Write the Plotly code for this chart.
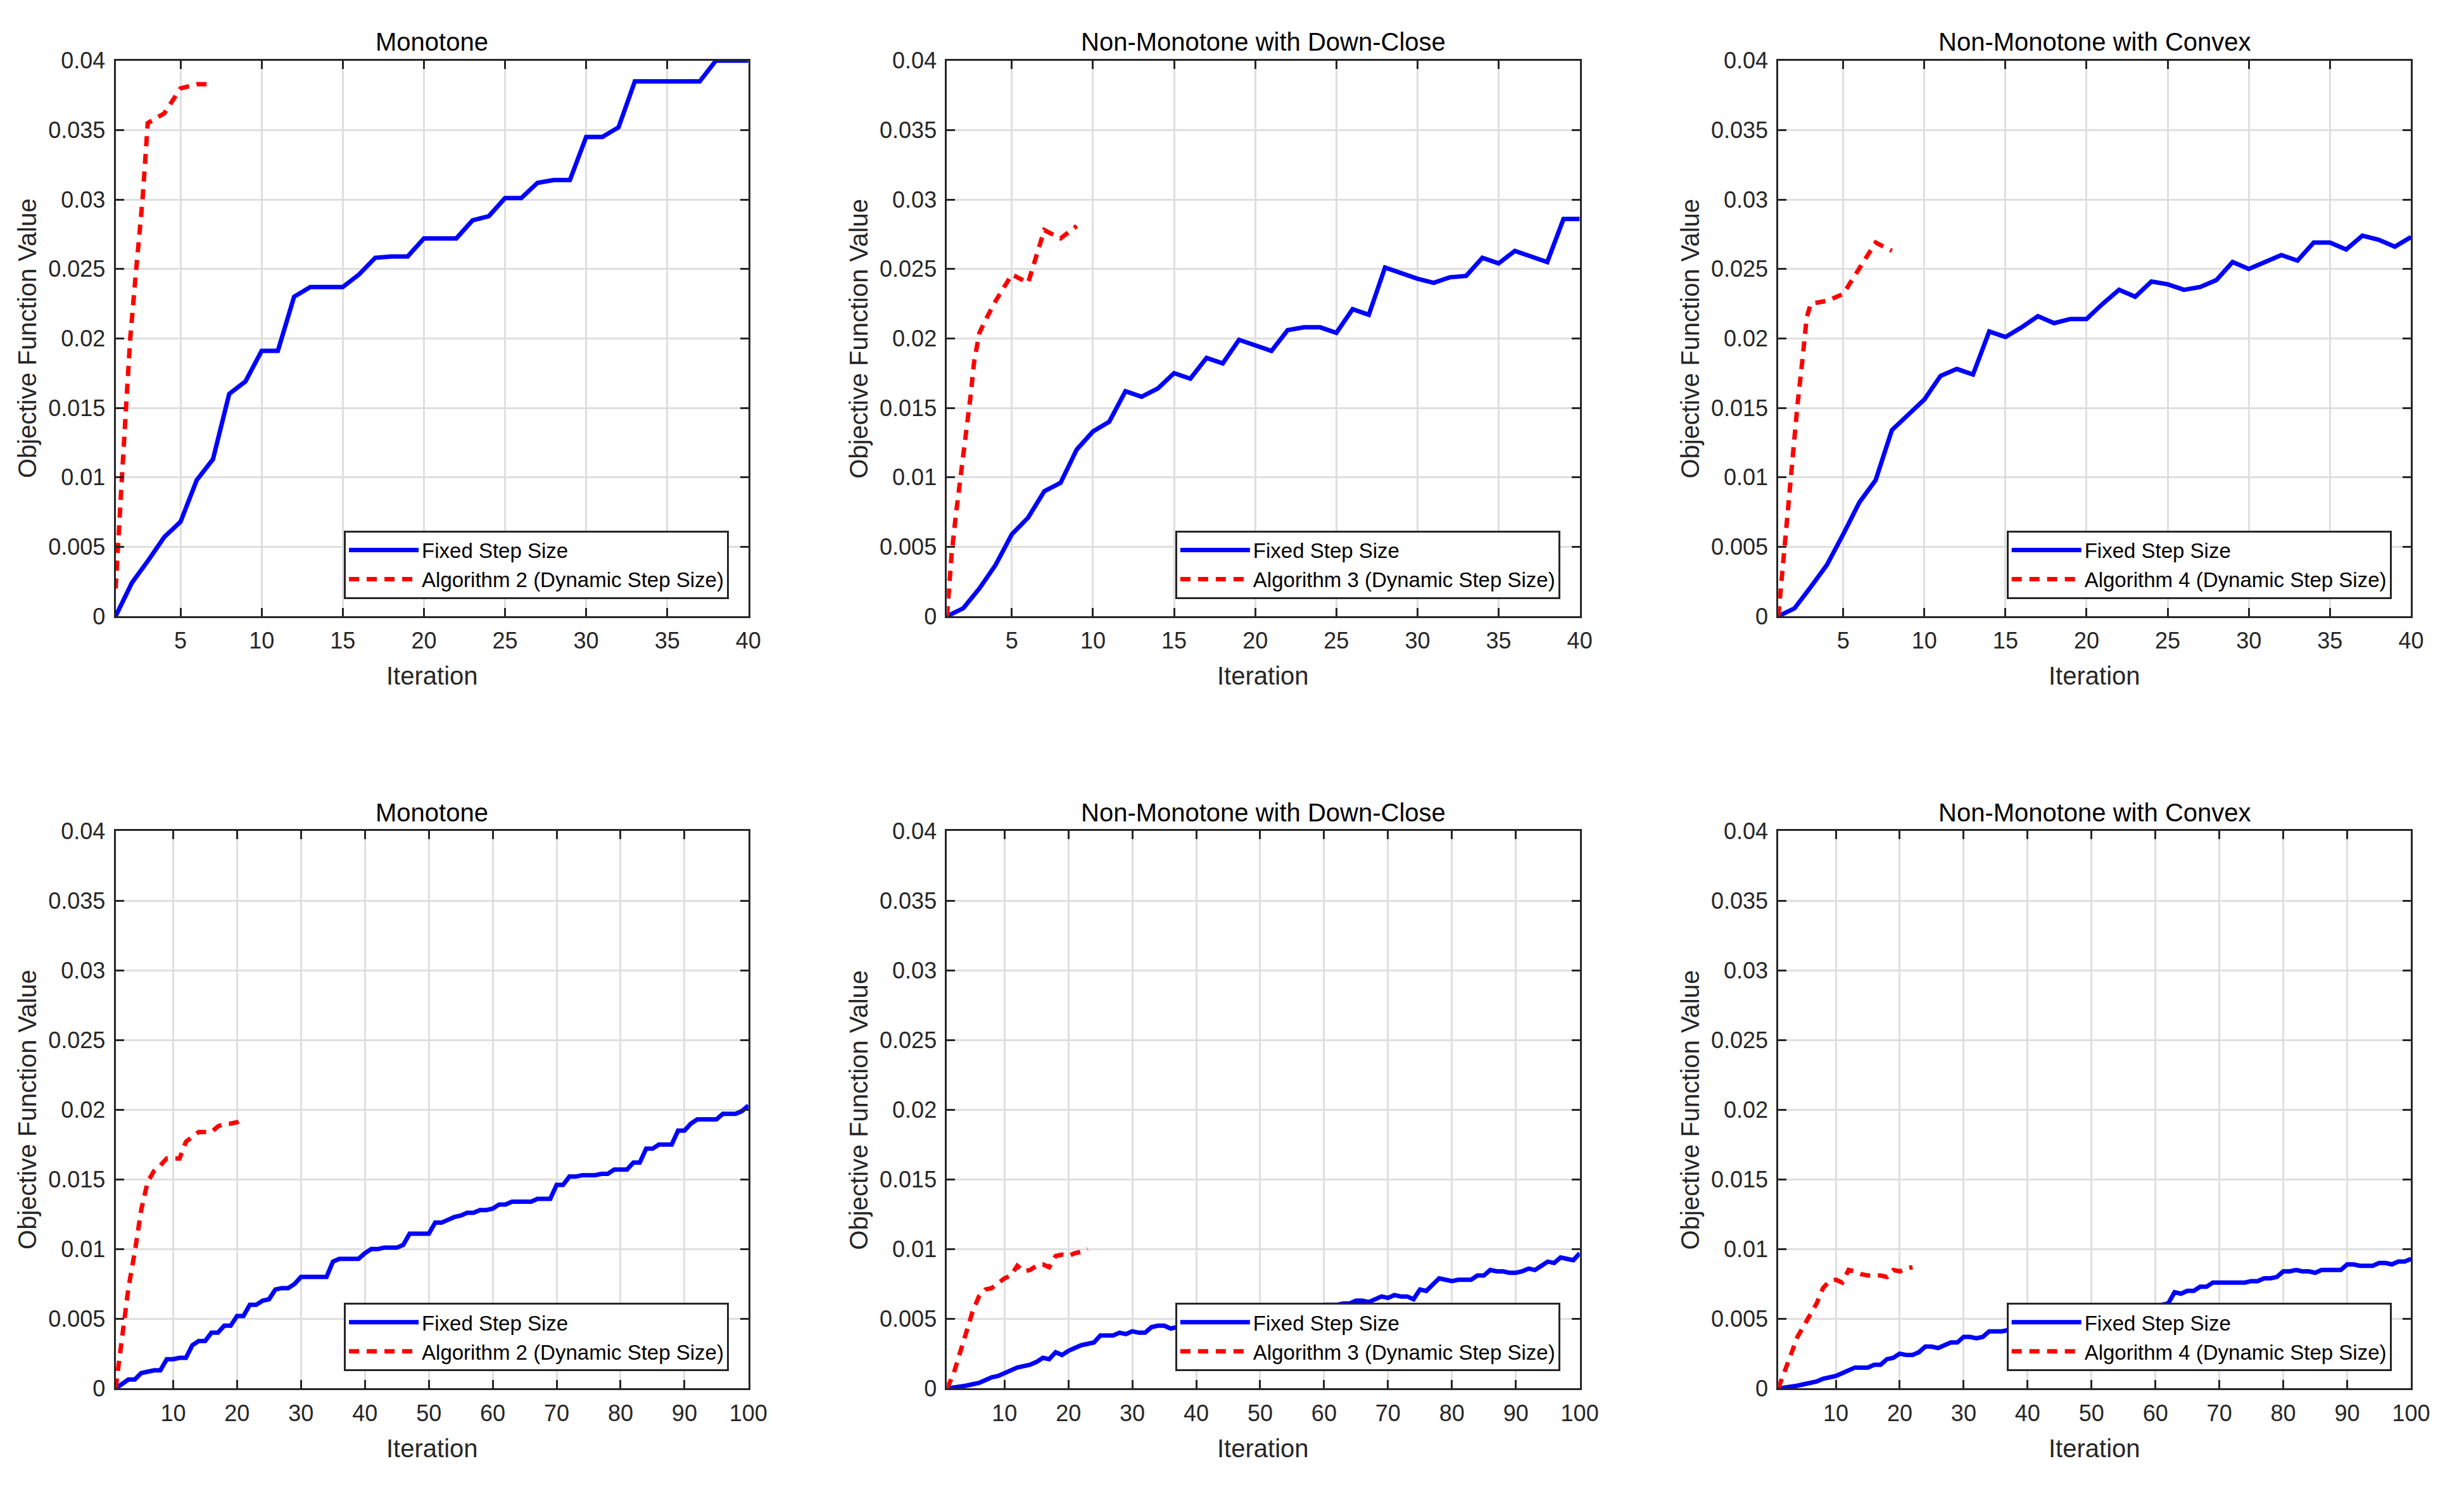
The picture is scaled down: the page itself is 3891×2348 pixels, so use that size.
import plotly.graph_objects as go

# ---------------- data ----------------
iter40 = list(range(1, 41))
iter100 = list(range(1, 101))

titles = ["Monotone", "Non-Monotone with Down-Close", "Non-Monotone with Convex",
          "Monotone", "Non-Monotone with Down-Close", "Non-Monotone with Convex"]
dyn_names = ["Algorithm 2 (Dynamic Step Size)", "Algorithm 3 (Dynamic Step Size)",
             "Algorithm 4 (Dynamic Step Size)"]
fixed_name = "Fixed Step Size"

# top row (40 iterations)
fixed_mono_40 = [0, 0.0024, 0.0040, 0.0057, 0.0068, 0.0098, 0.0113, 0.0160, 0.0169, 0.0191,
                 0.0191, 0.0230, 0.0237, 0.0237, 0.0237, 0.0246, 0.0258, 0.0259, 0.0259, 0.0272,
                 0.0272, 0.0272, 0.0285, 0.0288, 0.0301, 0.0301, 0.0312, 0.0314, 0.0314, 0.0345,
                 0.0345, 0.0352, 0.0385, 0.0385, 0.0385, 0.0385, 0.0385, 0.0400, 0.0400, 0.0400]
dyn_mono_40_x = [1, 1.13, 1.39, 1.64, 1.9, 2.27, 2.66, 2.98, 4, 5, 6, 7]
dyn_mono_40 = [0.0020, 0.0050, 0.0100, 0.0150, 0.0200, 0.0250, 0.0300, 0.0355, 0.0362, 0.0380, 0.0383, 0.0383]

fixed_down_40 = [0, 0.00057, 0.0020, 0.0037, 0.0059, 0.0071, 0.0090, 0.0096, 0.0120, 0.0133,
                 0.0140, 0.0162, 0.0158, 0.0164, 0.0175, 0.0171, 0.0186, 0.0182, 0.0199, 0.0195,
                 0.0191, 0.0206, 0.0208, 0.0208, 0.0204, 0.0221, 0.0217, 0.0251, 0.0247, 0.0243,
                 0.0240, 0.0244, 0.0245, 0.0258, 0.0254, 0.0263, 0.0259, 0.0255, 0.0286, 0.0286]
dyn_down_40_x = [1, 1.29, 1.55, 1.87, 2.19, 2.45, 2.67, 3, 3.5, 4, 5, 6, 7, 8, 9]
dyn_down_40 = [0, 0.0045, 0.0073, 0.0102, 0.0133, 0.0158, 0.0183, 0.0204, 0.0216, 0.0227,
               0.0246, 0.0240, 0.0278, 0.0272, 0.0281]

fixed_conv_40 = [0, 0.00057, 0.0021, 0.0037, 0.0059, 0.0082, 0.0098, 0.0134, 0.0145, 0.0156,
                 0.0173, 0.0178, 0.0174, 0.0205, 0.0201, 0.0208, 0.0216, 0.0211, 0.0214, 0.0214,
                 0.0225, 0.0235, 0.0230, 0.0241, 0.0239, 0.0235, 0.0237, 0.0242, 0.0255, 0.0250,
                 0.0255, 0.0260, 0.0256, 0.0269, 0.0269, 0.0264, 0.0274, 0.0271, 0.0266, 0.0273]
dyn_conv_40_x = [1, 1.22, 1.54, 1.86, 2.18, 2.5, 2.75, 3, 4, 5, 6, 7, 8]
dyn_conv_40 = [0, 0.0029, 0.0073, 0.0108, 0.0152, 0.0186, 0.0215, 0.0225, 0.0227, 0.0232,
               0.0251, 0.0269, 0.0263]

# bottom row (100 iterations)
fixed_mono_100 = [0, 0.0003, 0.00064, 0.00064, 0.0011, 0.0012, 0.0013, 0.0013, 0.0021, 0.0021,
                  0.0022, 0.0022, 0.0031, 0.0034, 0.0034, 0.0040, 0.0040, 0.0045, 0.0045, 0.0052,
                  0.0052, 0.0060, 0.0060, 0.0063, 0.0064, 0.0071, 0.0072, 0.0072, 0.0075, 0.0080,
                  0.0080, 0.0080, 0.0080, 0.0080, 0.0091, 0.0093, 0.0093, 0.0093, 0.0093, 0.0097,
                  0.0100, 0.0100, 0.0101, 0.0101, 0.0101, 0.0103, 0.0111, 0.0111, 0.0111, 0.0111,
                  0.0119, 0.0119, 0.0121, 0.0123, 0.0124, 0.0126, 0.0126, 0.0128, 0.0128, 0.0129,
                  0.0132, 0.0132, 0.0134, 0.0134, 0.0134, 0.0134, 0.0136, 0.0136, 0.0136, 0.0146,
                  0.0146, 0.0152, 0.0152, 0.0153, 0.0153, 0.0153, 0.0154, 0.0154, 0.0157, 0.0157,
                  0.0157, 0.0162, 0.0162, 0.0172, 0.0172, 0.0175, 0.0175, 0.0175, 0.0185, 0.0185,
                  0.0190, 0.0193, 0.0193, 0.0193, 0.0193, 0.0197, 0.0197, 0.0197, 0.0199, 0.0203]
dyn_mono_100_x = list(range(1, 22))
dyn_mono_100 = [0, 0.0038, 0.0072, 0.0098, 0.0128, 0.0148, 0.0156, 0.0160, 0.0165, 0.0165,
                0.0165, 0.0177, 0.0181, 0.0184, 0.0184, 0.0184, 0.0188, 0.0190, 0.0190, 0.0191,
                0.0193]

fixed_down_100 = [0, 0.00005, 0.0001, 0.0002, 0.0003, 0.0004, 0.0006, 0.0008, 0.0009, 0.0011,
                  0.0013, 0.0015, 0.0016, 0.0017, 0.0019, 0.0022, 0.0021, 0.0026, 0.0024, 0.0027,
                  0.0029, 0.0031, 0.0032, 0.0033, 0.0038, 0.0038, 0.0038, 0.0040, 0.0039, 0.0041,
                  0.0040, 0.0040, 0.0044, 0.0045, 0.0045, 0.0043, 0.0044, 0.0045, 0.0046, 0.0046,
                  0.0047, 0.0048, 0.0048, 0.0049, 0.0050, 0.0050, 0.0051, 0.0052, 0.0052, 0.0053,
                  0.0054, 0.0054, 0.0055, 0.0056, 0.0057, 0.0059, 0.0058, 0.0058, 0.0057, 0.0060,
                  0.0060, 0.0060, 0.0061, 0.0061, 0.0063, 0.0063, 0.0062, 0.0064, 0.0066, 0.0065,
                  0.0067, 0.0066, 0.0066, 0.0064, 0.0071, 0.0070, 0.0075, 0.0079, 0.0078, 0.0077,
                  0.0078, 0.0078, 0.0078, 0.0081, 0.0081, 0.0085, 0.0084, 0.0084, 0.0083, 0.0083,
                  0.0084, 0.0086, 0.0085, 0.0088, 0.0091, 0.0090, 0.0094, 0.0093, 0.0092, 0.0097]
dyn_down_100_x = list(range(1, 24))
dyn_down_100 = [0, 0.0010, 0.0025, 0.0039, 0.0055, 0.0066, 0.0071, 0.0072, 0.0076, 0.0079,
                0.0081, 0.0088, 0.0084, 0.0085, 0.0088, 0.0089, 0.0087, 0.0095, 0.0096, 0.0095,
                0.0097, 0.0098, 0.0100]

fixed_conv_100 = [0, 0.00005, 0.0001, 0.0002, 0.0003, 0.0004, 0.0005, 0.0007, 0.0008, 0.0009,
                  0.0011, 0.0013, 0.0015, 0.0015, 0.0015, 0.0017, 0.0017, 0.0021, 0.0022, 0.0025,
                  0.0024, 0.0024, 0.0026, 0.0030, 0.0030, 0.0029, 0.0031, 0.0033, 0.0033, 0.0037,
                  0.0037, 0.0036, 0.0037, 0.0041, 0.0041, 0.0041, 0.0042, 0.0042, 0.0043, 0.0044,
                  0.0044, 0.0045, 0.0045, 0.0046, 0.0047, 0.0047, 0.0048, 0.0048, 0.0049, 0.0050,
                  0.0050, 0.0051, 0.0051, 0.0052, 0.0053, 0.0053, 0.0054, 0.0055, 0.0056, 0.0057,
                  0.0060, 0.0061, 0.0069, 0.0068, 0.0070, 0.0070, 0.0073, 0.0073, 0.0076, 0.0076,
                  0.0076, 0.0076, 0.0076, 0.0076, 0.0077, 0.0077, 0.0079, 0.0079, 0.0080, 0.0084,
                  0.0084, 0.0085, 0.0084, 0.0084, 0.0083, 0.0085, 0.0085, 0.0085, 0.0085, 0.0089,
                  0.0089, 0.0088, 0.0088, 0.0088, 0.0090, 0.0090, 0.0089, 0.0091, 0.0091, 0.0093]
dyn_conv_100_x = list(range(1, 23))
dyn_conv_100 = [0, 0.0012, 0.0026, 0.0037, 0.0045, 0.0053, 0.0061, 0.0072, 0.0077, 0.0078,
                0.0076, 0.0085, 0.0084, 0.0082, 0.0081, 0.0081, 0.0081, 0.0080, 0.0085, 0.0084,
                0.0086, 0.0087]

y_ticks = [0, 0.005, 0.01, 0.015, 0.02, 0.025, 0.03, 0.035, 0.04]
y_ticktext = ["0", "0.005", "0.01", "0.015", "0.02", "0.025", "0.03", "0.035", "0.04"]
x_ticks_40 = [5, 10, 15, 20, 25, 30, 35, 40]
x_ticks_100 = [10, 20, 30, 40, 50, 60, 70, 80, 90, 100]

# ---------------- layout constants ----------------
W, H = 3891, 2348
FONT = "Liberation Sans, Arial, Helvetica, sans-serif"
AX = "#262626"
BLUE = "#0000FF"
RED = "#FF0000"

x_dom = [(184 / W, 1191 / W), (1507 / W, 2514 / W), (2830 / W, 3837 / W)]
y_dom = [(1 - 970 / H, 1 - 77 / H), (1 - 2211 / H, 1 - 1315 / H)]

panels = [
    (iter40, fixed_mono_40, dyn_mono_40_x, dyn_mono_40, 0, 0, 0),
    (iter40, fixed_down_40, dyn_down_40_x, dyn_down_40, 1, 0, 1),
    (iter40, fixed_conv_40, dyn_conv_40_x, dyn_conv_40, 2, 0, 2),
    (iter100, fixed_mono_100, dyn_mono_100_x, dyn_mono_100, 0, 1, 0),
    (iter100, fixed_down_100, dyn_down_100_x, dyn_down_100, 1, 1, 1),
    (iter100, fixed_conv_100, dyn_conv_100_x, dyn_conv_100, 2, 1, 2),
]

fig = go.Figure()
layout = dict(autosize=True, margin=dict(l=0, r=0, t=0, b=0),
              paper_bgcolor="white", plot_bgcolor="white",
              font=dict(family=FONT, color=AX), showlegend=True)
annotations = []

for i, (xs, fixed, dx, dy, col, row, alg) in enumerate(panels):
    n = i + 1
    sfx = "" if n == 1 else str(n)
    leg = "legend" if n == 1 else "legend" + str(n)
    xa, ya = "x" + sfx, "y" + sfx
    fig.add_trace(go.Scatter(x=xs, y=fixed, mode="lines", name=fixed_name,
                             line=dict(color=BLUE, width=7), xaxis=xa, yaxis=ya, legend=leg))
    fig.add_trace(go.Scatter(x=dx, y=dy, mode="lines", name=dyn_names[alg],
                             line=dict(color=RED, width=7, dash="16px,12px"),
                             xaxis=xa, yaxis=ya, legend=leg))
    xmax = xs[-1]
    common = dict(showline=True, linecolor=AX, linewidth=3, mirror="ticks",
                  ticks="inside", ticklen=13, tickwidth=3, tickcolor=AX,
                  showgrid=True, gridcolor="#DFDFDF", gridwidth=3, zeroline=False,
                  tickfont=dict(family=FONT, size=36, color=AX))
    layout["xaxis" + sfx] = dict(common, domain=list(x_dom[col]), range=[1, xmax],
                                 tickvals=x_ticks_40 if xmax == 40 else x_ticks_100,
                                 anchor=ya, ticklabelstandoff=5)
    layout["yaxis" + sfx] = dict(common, domain=list(y_dom[row]), range=[0, 0.04],
                                 tickvals=y_ticks, ticktext=y_ticktext, anchor=xa,
                                 ticklabelstandoff=6)
    right = x_dom[col][1] - 31 / W
    bottom = y_dom[row][0] + 28 / H
    layout[leg] = dict(x=right, y=bottom, xanchor="right", yanchor="bottom",
                       bgcolor="white", bordercolor=AX, borderwidth=3,
                       font=dict(family=FONT, size=33, color="black"),
                       itemwidth=110, tracegroupgap=0)
    xc = (x_dom[col][0] + x_dom[col][1]) / 2
    yc = (y_dom[row][0] + y_dom[row][1]) / 2
    # panel title
    annotations.append(dict(text=titles[i], x=xc, y=y_dom[row][1] + 30 / H, xref="paper", yref="paper",
                            xanchor="center", yanchor="middle", showarrow=False,
                            font=dict(family=FONT, size=40, color="black")))
    # x label
    annotations.append(dict(text="Iteration", x=xc, y=y_dom[row][0] - 96 / H, xref="paper", yref="paper",
                            xanchor="center", yanchor="middle", showarrow=False,
                            font=dict(family=FONT, size=40, color=AX)))
    # y label
    annotations.append(dict(text="Objective Function Value", x=x_dom[col][0] - 140 / W, y=yc,
                            xref="paper", yref="paper", xanchor="center", yanchor="middle",
                            textangle=-90, showarrow=False,
                            font=dict(family=FONT, size=40, color=AX)))

layout["annotations"] = annotations
fig.update_layout(**layout)
fig.write_html("out.html",
               config={"displayModeBar": False, "responsive": True},
               default_width="100vw", default_height="100vh",
               post_script="document.documentElement.style.margin='0';"
                           "document.body.style.margin='0';document.body.style.padding='0';"
                           "document.body.style.overflow='hidden';"
                           "document.documentElement.style.overflow='hidden';"
                           "var gd=document.getElementById('{plot_id}');"
                           "Plotly.Plots.resize(gd);")
